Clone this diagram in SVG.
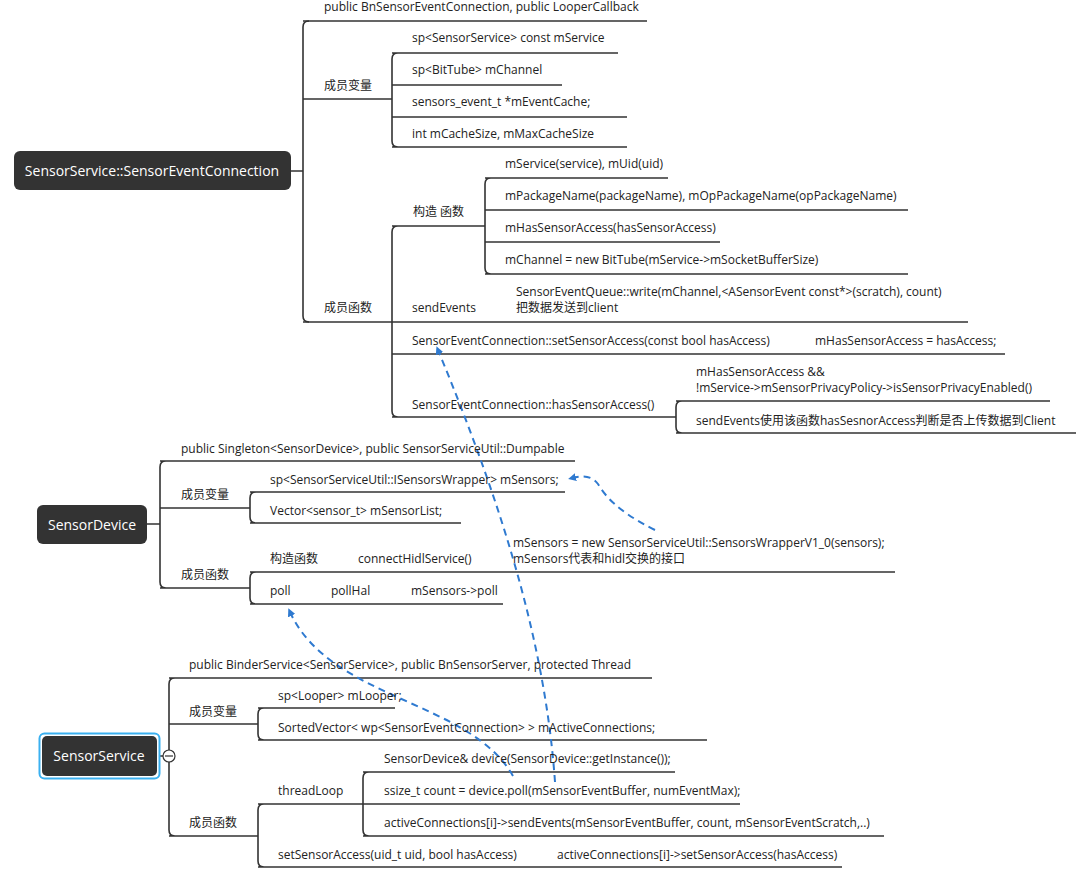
<svg xmlns="http://www.w3.org/2000/svg" width="1083" height="873" viewBox="0 0 1083 873">
<defs>
<style>
text{font-family:"Open Sans","Noto Sans CJK SC",sans-serif;font-size:12px;fill:#222}
.r{font-size:14px;fill:#fff}
.l{stroke:#333;stroke-width:1.6;fill:none}
.d{stroke:#2f7ad0;stroke-width:2;fill:none;stroke-dasharray:7 5}
</style>
<marker id="a" markerWidth="8" markerHeight="8" refX="4" refY="4" orient="auto" markerUnits="userSpaceOnUse"><path d="M0,0 L8,4 L0,8 z" fill="#2f7ad0"/></marker>
</defs>
<rect width="1083" height="873" fill="#fff"/>
<g id="connectors">
<!-- node1 -->
<path class="l" d="M291,171H303M309,21Q303,21 303,27V316Q303,322 309,322"/>
<path class="l" d="M303,21H647M303,99H392M303,322H392"/>
<path class="l" d="M398,53Q392,53 392,59V141Q392,147 398,147M392,53H618M392,85H562M392,117H627M392,147H627"/>
<path class="l" d="M398,226Q392,226 392,232V411Q392,417 398,417M392,226H485M392,322H968M392,354H1005M392,417H676"/>
<path class="l" d="M491,178Q485,178 485,184V268Q485,274 491,274M485,178H668M485,210H908M485,242H720M485,274H908"/>
<path class="l" d="M682,401Q676,401 676,407V427Q676,433 682,433M676,401H1050M676,433H1076"/>
<!-- node2 -->
<path class="l" d="M147,524H160M166,461Q160,461 160,467V582Q160,588 166,588M160,461H575M160,508H250M160,588H250"/>
<path class="l" d="M256,492Q250,492 250,498V517Q250,523 256,523M250,492H565M250,523H461"/>
<path class="l" d="M256,572Q250,572 250,578V598Q250,604 256,604M250,572H895M250,604H503"/>
<!-- node3 -->
<path class="l" d="M160,756H163M175,678Q169,678 169,684V830Q169,836 175,836M169,678H652M169,724H258M169,836H258"/>
<path class="l" d="M264,708Q258,708 258,714V734Q258,740 264,740M258,708H395M258,740H707"/>
<path class="l" d="M264,804Q258,804 258,810V861Q258,867 264,867M258,804H363M258,867H842"/>
<path class="l" d="M369,772Q363,772 363,778V830Q363,836 369,836M363,772H675M363,804H740M363,836H884"/>
<circle cx="169" cy="756" r="6" fill="#fff" stroke="#333" stroke-width="1.2"/>
<path d="M165,756H173" stroke="#333" stroke-width="1.2"/>
<!-- dashed -->
<path class="d" marker-end="url(#a)" d="M555,782C545,640 500,500 438,350"/>
<path class="d" marker-end="url(#a)" d="M513,776C470,700 330,700 290,612"/>
<path class="d" marker-end="url(#a)" d="M655,530C615,510 605,495 598,484C590,474 580,476 572,478"/>
</g>
<g id="n1"><rect x="14" y="151" width="277" height="39" rx="6" fill="#333"/><text class="r" x="152" y="176" text-anchor="middle">SensorService::SensorEventConnection</text>
<text x="324" y="11">public BnSensorEventConnection, public LooperCallback</text>
<text x="324" y="90">成员变量</text>
<text x="412" y="42">sp&lt;SensorService&gt; const mService</text>
<text x="412" y="74">sp&lt;BitTube&gt; mChannel</text>
<text x="412" y="106">sensors_event_t *mEventCache;</text>
<text x="412" y="138">int mCacheSize, mMaxCacheSize</text>
<text x="324" y="312">成员函数</text>
<text x="413" y="216">构造 函数</text>
<text x="505" y="168">mService(service), mUid(uid)</text>
<text x="505" y="200">mPackageName(packageName), mOpPackageName(opPackageName)</text>
<text x="505" y="232">mHasSensorAccess(hasSensorAccess)</text>
<text x="505" y="264">mChannel = new BitTube(mService-&gt;mSocketBufferSize)</text>
<text x="412" y="312">sendEvents</text>
<text x="516" y="296">SensorEventQueue::write(mChannel,&lt;ASensorEvent const*&gt;(scratch), count)</text>
<text x="516" y="312">把数据发送到client</text>
<text x="412" y="345">SensorEventConnection::setSensorAccess(const bool hasAccess)</text>
<text x="815" y="345">mHasSensorAccess = hasAccess;</text>
<text x="412" y="409">SensorEventConnection::hasSensorAccess()</text>
<text x="696" y="376">mHasSensorAccess &amp;&amp;</text>
<text x="696" y="392">!mService-&gt;mSensorPrivacyPolicy-&gt;isSensorPrivacyEnabled()</text>
<text x="696" y="425">sendEvents使用该函数hasSesnorAccess判断是否上传数据到Client</text>
</g>
<g id="n2"><rect x="37" y="505" width="110" height="39" rx="6" fill="#333"/><text class="r" x="92" y="530" text-anchor="middle">SensorDevice</text>
<text x="181" y="453">public Singleton&lt;SensorDevice&gt;, public SensorServiceUtil::Dumpable</text>
<text x="181" y="499">成员变量</text>
<text x="270" y="484">sp&lt;SensorServiceUtil::ISensorsWrapper&gt; mSensors;</text>
<text x="270" y="515">Vector&lt;sensor_t&gt; mSensorList;</text>
<text x="181" y="579">成员函数</text>
<text x="270" y="563">构造函数</text>
<text x="358" y="563">connectHidlService()</text>
<text x="513" y="547">mSensors = new SensorServiceUtil::SensorsWrapperV1_0(sensors);</text>
<text x="513" y="563">mSensors代表和hidl交换的接口</text>
<text x="270" y="595">poll</text>
<text x="331" y="595">pollHal</text>
<text x="411" y="595">mSensors-&gt;poll</text>
</g>
<g id="n3"><rect x="39.500" y="733.500" width="120" height="45" rx="5" fill="none" stroke="#3ab0f0" stroke-width="2"/><rect x="42" y="736" width="115" height="40" rx="5" fill="#333"/><text class="r" x="99" y="761" text-anchor="middle">SensorService</text>
<text x="189" y="669">public BinderService&lt;SensorService&gt;, public BnSensorServer, protected Thread</text>
<text x="189" y="716">成员变量</text>
<text x="278" y="700">sp&lt;Looper&gt; mLooper;</text>
<text x="278" y="732">SortedVector&lt; wp&lt;SensorEventConnection&gt; &gt; mActiveConnections;</text>
<text x="189" y="827">成员函数</text>
<text x="278" y="795">threadLoop</text>
<text x="384" y="763">SensorDevice&amp; device(SensorDevice::getInstance());</text>
<text x="384" y="795">ssize_t count = device.poll(mSensorEventBuffer, numEventMax);</text>
<text x="384" y="827">activeConnections[i]-&gt;sendEvents(mSensorEventBuffer, count, mSensorEventScratch,..)</text>
<text x="278" y="859">setSensorAccess(uid_t uid, bool hasAccess)</text>
<text x="557" y="859">activeConnections[i]-&gt;setSensorAccess(hasAccess)</text>
</g>
</svg>
